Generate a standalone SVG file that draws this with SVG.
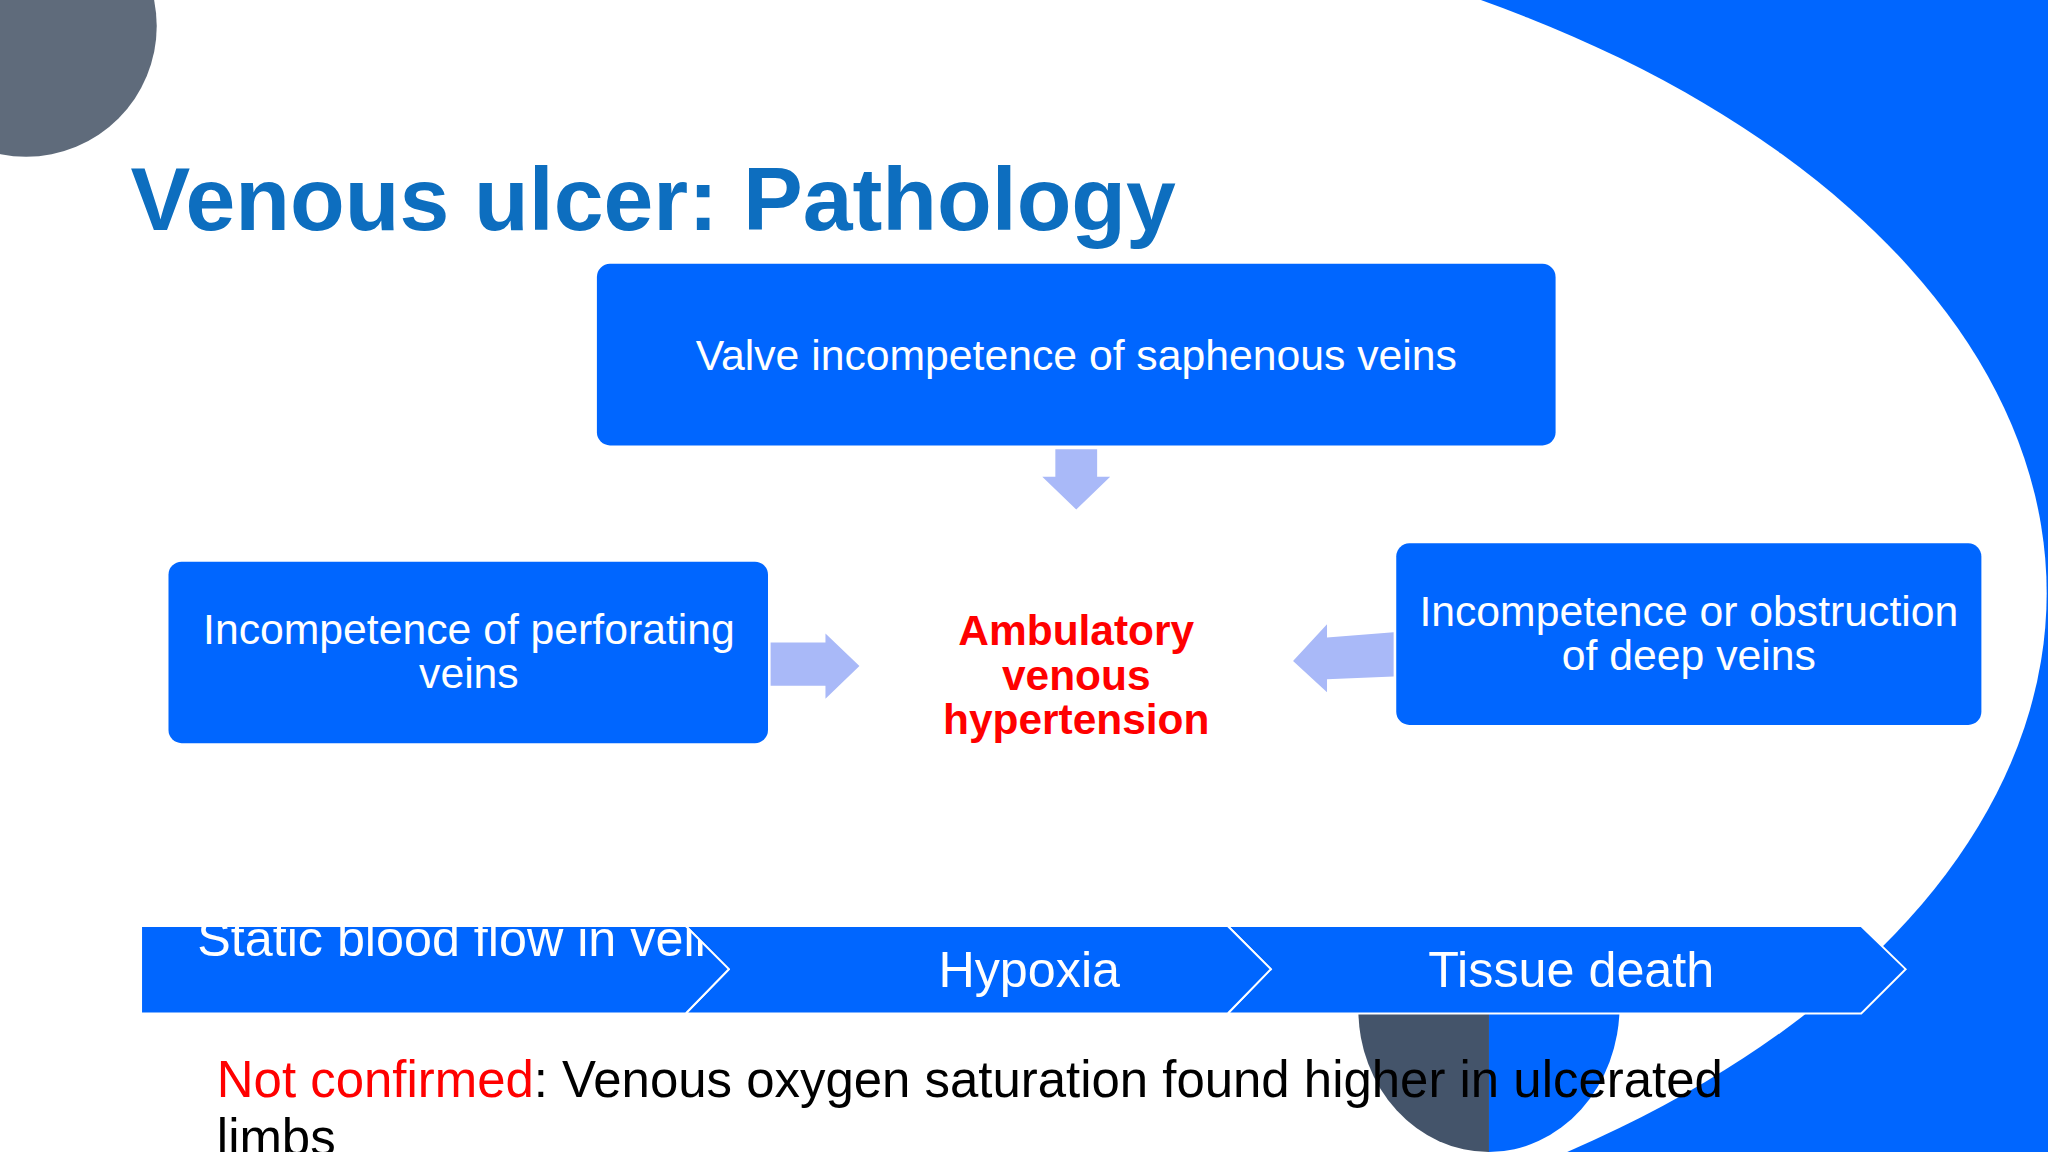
<svg xmlns="http://www.w3.org/2000/svg" width="2048" height="1152" viewBox="0 0 2048 1152">
<defs>
<style>
.box{fill:#0066ff}
.bt{font-family:"Liberation Sans",Arial,sans-serif;font-size:32.7px;fill:#fff;text-anchor:middle}
.arr{fill:#a9b9f8}
.chev{fill:#0066ff;stroke:#fff;stroke-width:1.5}
.ct{font-family:"Liberation Sans",Arial,sans-serif;font-size:38.5px;fill:#fff;text-anchor:middle}
.red{font-family:"Liberation Sans",Arial,sans-serif;font-size:32.5px;font-weight:bold;fill:#ff0000;text-anchor:middle}
</style>
<clipPath id="c1"><polygon points="108,709 525,709 558,742 525,776 108,776"/></clipPath>
<clipPath id="lh"><rect x="900" y="776" width="240" height="200"/></clipPath>
<clipPath id="rh"><rect x="1140" y="776" width="200" height="200"/></clipPath>
</defs>
<rect width="2048" height="1152" fill="#fff"/>
<g transform="scale(1.30612)">
<g id="background">
<rect x="995" y="0" width="600" height="900" fill="#0066ff"/>
<ellipse cx="672" cy="454" rx="895" ry="530" fill="#fff"/>
<circle cx="20" cy="20" r="100" fill="#5f6b7b"/>
<ellipse cx="1140" cy="773" rx="100" ry="109" fill="#44546a" clip-path="url(#lh)"/>
<ellipse cx="1140" cy="770" rx="100" ry="112" fill="#0066ff" clip-path="url(#rh)"/>
</g>
<text id="title" x="100" y="176" font-family="Liberation Sans,Arial,sans-serif" font-size="68.6" font-weight="bold" fill="#0d6ebf">Venous ulcer: Pathology</text>
<g id="connectors">
<polygon class="arr" points="808,344 840,344 840,365 850,365 824,390 798,365 808,365"/>
<polygon class="arr" points="590,492 632,492 632,485 658,510 632,535 632,525 590,525"/>
<polygon class="arr" points="1067,484 1016,488 1016,478 990,506 1016,530 1016,520 1067,518"/>
</g>
<g id="node-valve">
<rect class="box" x="457" y="202" width="734" height="139" rx="10"/>
<text class="bt" x="824" y="283">Valve incompetence of saphenous veins</text>
</g>
<g id="node-perforating">
<rect class="box" x="129" y="430" width="459" height="139" rx="10"/>
<text class="bt" x="359" y="493">Incompetence of perforating</text>
<text class="bt" x="359" y="527">veins</text>
</g>
<g id="node-deep">
<rect class="box" x="1069" y="416" width="448" height="139" rx="10"/>
<text class="bt" x="1293" y="479">Incompetence or obstruction</text>
<text class="bt" x="1293" y="513">of deep veins</text>
</g>
<g id="node-hypertension">
<text class="red" x="824" y="494">Ambulatory</text>
<text class="red" x="824" y="528">venous</text>
<text class="red" x="824" y="562">hypertension</text>
</g>
<g id="node-tissue">
<polygon class="chev" points="940,709 1425,709 1459,742 1425,776 940,776 973,742"/>
<text class="ct" x="1203" y="756">Tissue death</text>
</g>
<g id="node-hypoxia">
<polygon class="chev" points="525,709 940,709 973,742 940,776 525,776 558,742"/>
<text class="ct" x="788" y="756">Hypoxia</text>
</g>
<g id="node-static">
<polygon class="chev" points="108,709 525,709 558,742 525,776 108,776"/>
<text class="ct" x="151" y="732" clip-path="url(#c1)" style="text-anchor:start">Static blood flow in veins</text>
</g>
<g id="note">
<text x="166" y="840" font-family="Liberation Sans,Arial,sans-serif" font-size="39" fill="#000"><tspan fill="#ff0000">Not confirmed</tspan>: Venous oxygen saturation found higher in ulcerated</text>
<text x="166" y="884" font-family="Liberation Sans,Arial,sans-serif" font-size="39" fill="#000">limbs</text>
</g>
</g>
</svg>
